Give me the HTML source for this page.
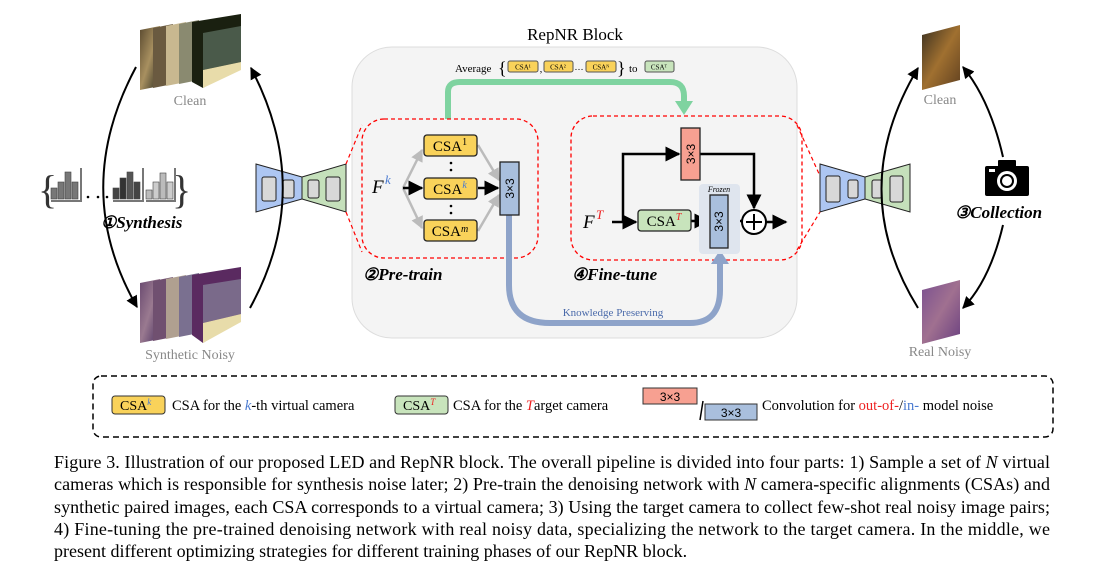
<!DOCTYPE html>
<html><head><meta charset="utf-8"><style>
body{margin:0;background:#fff;}
svg{display:block;font-family:"Liberation Serif",serif;}
</style></head><body>
<svg width="1100" height="577" viewBox="0 0 1100 577" xmlns="http://www.w3.org/2000/svg">
<defs>
<marker id="ah" viewBox="0 0 10 10" refX="9" refY="5" markerWidth="6" markerHeight="6" orient="auto"><path d="M0,0L10,5L0,10z" fill="#000"/></marker>
<marker id="ahg" viewBox="0 0 10 10" refX="9" refY="5" markerWidth="5" markerHeight="5" orient="auto"><path d="M0,0L10,5L0,10z" fill="#bbb"/></marker>
<linearGradient id="cl" x1="0" y1="0" x2="1" y2="1"><stop offset="0" stop-color="#5a4a30"/><stop offset=".5" stop-color="#a89060"/><stop offset="1" stop-color="#2a2a20"/></linearGradient>
<linearGradient id="nz" x1="0" y1="0" x2="1" y2="1"><stop offset="0" stop-color="#6a4a70"/><stop offset=".5" stop-color="#9a7a90"/><stop offset="1" stop-color="#4a3060"/></linearGradient>
<linearGradient id="rc" x1="0" y1="0" x2="1" y2="1"><stop offset="0" stop-color="#3a3020"/><stop offset=".5" stop-color="#a07030"/><stop offset="1" stop-color="#604020"/></linearGradient>
<linearGradient id="rn" x1="0" y1="0" x2="1" y2="1"><stop offset="0" stop-color="#7a5090"/><stop offset=".5" stop-color="#a07090"/><stop offset="1" stop-color="#6a4080"/></linearGradient>
</defs>

<text x="575" y="40" font-size="17" text-anchor="middle">RepNR Block</text>
<rect x="352" y="47" width="445" height="291" rx="40" fill="#f4f4f4" stroke="#ddd"/>

<text x="455" y="72" font-size="11">Average</text>
<text x="498" y="74" font-size="18">{</text>
<g font-size="7" text-anchor="middle">
<rect x="508" y="61" width="30" height="11" fill="#f9d25a" stroke="#555" rx="2"/><text x="523" y="69.5">CSA¹</text>
<text x="541" y="72" font-size="10">,</text>
<rect x="544" y="61" width="29" height="11" fill="#f9d25a" stroke="#555" rx="2"/><text x="558" y="69.5">CSA²</text>
<text x="579" y="70" font-size="9">…</text>
<rect x="586" y="61" width="30" height="11" fill="#f9d25a" stroke="#555" rx="2"/><text x="601" y="69.5">CSAᴺ</text>
<rect x="645" y="61" width="29" height="11" fill="#c8e4bc" stroke="#555" rx="2"/><text x="659" y="69.5">CSAᵀ</text>
</g>
<text x="617" y="74" font-size="18">}</text>
<text x="629" y="72" font-size="11">to</text>

<path d="M448,119 V92 Q448,82 460,82 H670 Q684,82 684,96 V103" fill="none" stroke="#7fd3a0" stroke-width="6"/>
<path d="M675,101 L693,101 L684,115 z" fill="#7fd3a0"/>

<rect x="362" y="119" width="176" height="139" rx="22" fill="none" stroke="#f00" stroke-width="1.3" stroke-dasharray="4,3"/>
<rect x="571" y="116" width="231" height="144" rx="22" fill="none" stroke="#f00" stroke-width="1.3" stroke-dasharray="4,3"/>

<path d="M509,215 V285 Q509,323 550,323 H690 Q720,323 720,290 V262" fill="none" stroke="#8ea3c9" stroke-width="6"/>
<path d="M711,264 L729,264 L720,250 z" fill="#8ea3c9"/>
<text x="613" y="316" font-size="11" fill="#4a6aaa" text-anchor="middle">Knowledge Preserving</text>

<text x="372" y="193" font-size="19" font-style="italic">F</text><text x="385" y="184" font-size="13" font-style="italic" fill="#4a7ad0">k</text>
<g stroke="#bbb" stroke-width="2.5" fill="none">
<path d="M403,188 L422,150" marker-end="url(#ahg)"/>
<path d="M403,188 L422,228" marker-end="url(#ahg)"/>
<path d="M478,145 L499,180" marker-end="url(#ahg)"/>
<path d="M478,231 L499,195" marker-end="url(#ahg)"/>
</g>
<line x1="403" y1="188" x2="422" y2="188" stroke="#000" stroke-width="2.5" marker-end="url(#ah)"/>
<line x1="478" y1="188" x2="498" y2="188" stroke="#000" stroke-width="2.5" marker-end="url(#ah)"/>
<g font-size="15" text-anchor="middle">
<rect x="424" y="135" width="53" height="21" rx="3" fill="#f9d25a" stroke="#222" stroke-width="1.3"/><text x="450" y="151">CSA<tspan font-size="10" dy="-6">1</tspan></text>
<rect x="424" y="178" width="53" height="21" rx="3" fill="#f9d25a" stroke="#222" stroke-width="1.3"/><text x="450" y="194">CSA<tspan font-size="10" dy="-6" fill="#4a7ad0" font-style="italic">k</tspan></text>
<rect x="424" y="220" width="53" height="21" rx="3" fill="#f9d25a" stroke="#222" stroke-width="1.3"/><text x="450" y="236">CSA<tspan font-size="10" dy="-4" font-style="italic">m</tspan></text>
</g>
<g fill="#000"><circle cx="451" cy="163" r="1.3"/><circle cx="451" cy="170" r="1.3"/><circle cx="451" cy="206" r="1.3"/><circle cx="451" cy="213" r="1.3"/></g>
<rect x="500" y="162" width="19" height="53" fill="#a9bfdd" stroke="#222" stroke-width="1.3"/>
<text transform="translate(514,188.5) rotate(-90)" font-size="12" text-anchor="middle" font-family="Liberation Sans,sans-serif">3×3</text>
<text x="363" y="280" font-size="17" font-weight="bold" font-style="italic">②Pre-train</text>

<text x="583" y="228" font-size="19" font-style="italic">F</text><text x="596" y="219" font-size="13" font-style="italic" fill="#e22">T</text>
<g stroke="#000" stroke-width="2.5" fill="none">
<line x1="612" y1="222" x2="636" y2="222" marker-end="url(#ah)"/>
<path d="M623,222 V154 H679" marker-end="url(#ah)"/>
<path d="M700,154 H754 V208" marker-end="url(#ah)"/>
<line x1="691" y1="221" x2="708" y2="221" marker-end="url(#ah)"/>
<line x1="728" y1="221" x2="742" y2="221"/>
<line x1="766" y1="222" x2="786" y2="222" marker-end="url(#ah)"/>
</g>
<rect x="681" y="128" width="19" height="52" fill="#f7a091" stroke="#222" stroke-width="1.3"/>
<text transform="translate(695,154) rotate(-90)" font-size="12" text-anchor="middle" font-family="Liberation Sans,sans-serif">3×3</text>
<rect x="638" y="210" width="53" height="21" rx="3" fill="#c8e4bc" stroke="#222" stroke-width="1.3"/>
<text x="664" y="226" font-size="15" text-anchor="middle">CSA<tspan font-size="10" dy="-6" fill="#e22" font-style="italic">T</tspan></text>
<rect x="699" y="184" width="41" height="70" rx="4" fill="#dfe5ee"/>
<text x="719" y="192" font-size="8" font-style="italic" text-anchor="middle">Frozen</text>
<rect x="710" y="195" width="18" height="53" fill="#a9bfdd" stroke="#222" stroke-width="1.3"/>
<text transform="translate(723,221.5) rotate(-90)" font-size="12" text-anchor="middle" font-family="Liberation Sans,sans-serif">3×3</text>
<circle cx="754" cy="222" r="12" fill="#fff" stroke="#000" stroke-width="2"/>
<path d="M746,222 H762 M754,214 V230" stroke="#000" stroke-width="2"/>
<text x="572" y="280" font-size="17" font-weight="bold" font-style="italic">④Fine-tune</text>

<g>
<path d="M256,164 L302,177 L302,199 L256,212 z" fill="#adc6f2" stroke="#222"/>
<path d="M302,177 L346,164 L346,212 L302,199 z" fill="#c5e0bb" stroke="#222"/>
<rect x="262" y="177" width="14" height="24" rx="2" fill="#d8d8d8" stroke="#222"/>
<rect x="283" y="180" width="11" height="18" rx="2" fill="#d8d8d8" stroke="#222"/>
<rect x="308" y="180" width="11" height="18" rx="2" fill="#d8d8d8" stroke="#222"/>
<rect x="326" y="177" width="14" height="24" rx="2" fill="#d8d8d8" stroke="#222"/>
</g>
<path d="M346,164 L362,125 M346,212 L362,252" stroke="#f00" stroke-width="1.2" stroke-dasharray="4,3"/>
<path d="M140,30 L160,26 L160,86 L140,90z" fill="url(#cl)"/>
<path d="M153,28 L173,24 L173,84 L153,88z" fill="#6a5a40"/>
<path d="M166,26 L186,22 L186,82 L166,86z" fill="#c8b890"/>
<path d="M179,24 L199,20 L199,80 L179,84z" fill="#8a8a70"/>
<path d="M192,22 L241,14 L241,64 L203,88 L192,82z" fill="#1a2010"/>
<path d="M203,33 L241,26 L241,62 L203,70z" fill="#4a5a4a"/>
<path d="M203,70 L241,62 L241,70 L203,88z" fill="#e8dcaa"/>
<path d="M140,283 L160,279 L160,339 L140,343z" fill="url(#nz)"/>
<path d="M153,281 L173,277 L173,337 L153,341z" fill="#705070"/>
<path d="M166,279 L186,275 L186,335 L166,339z" fill="#b0a090"/>
<path d="M179,277 L199,273 L199,333 L179,337z" fill="#7a7090"/>
<path d="M192,275 L241,267 L241,318 L203,343 L192,335z" fill="#5a2a60"/>
<path d="M203,285 L241,279 L241,314 L203,323z" fill="#7a6a8a"/>
<path d="M203,323 L241,314 L241,322 L203,343z" fill="#e8dcaa"/>
<text x="190" y="105" font-size="14" fill="#888" text-anchor="middle">Clean</text>
<text x="190" y="359" font-size="14" fill="#888" text-anchor="middle">Synthetic Noisy</text>
<g stroke="#000" stroke-width="2" fill="none">
<path d="M136,67 Q70,190 137,307" marker-end="url(#ah)"/>
<path d="M250,308 Q315,190 251,68" marker-end="url(#ah)"/>
</g>
<text x="38" y="203" font-size="40" fill="#333">{</text>
<text x="172" y="203" font-size="40" fill="#333">}</text>
<g fill="#777" stroke="#444" stroke-width=".6">
<rect x="51" y="188" width="6" height="11"/><rect x="58" y="182" width="6" height="17"/><rect x="65" y="172" width="6" height="27"/><rect x="72" y="182" width="6" height="17"/>
<rect x="113" y="188" width="6" height="11" fill="#444"/><rect x="120" y="178" width="6" height="21" fill="#333"/><rect x="127" y="172" width="6" height="27" fill="#555"/><rect x="134" y="182" width="6" height="17" fill="#444"/>
<rect x="146" y="190" width="6" height="9" fill="#bbb"/><rect x="153" y="182" width="6" height="17" fill="#ccc"/><rect x="160" y="173" width="6" height="26" fill="#bbb"/><rect x="167" y="182" width="6" height="17" fill="#ccc"/>
</g>
<path d="M51,201 H81 V168 M113,201 H143 V168 M146,201 H175 V168" stroke="#777" stroke-width="2" fill="none"/>
<g fill="#000"><circle cx="88" cy="197" r="1.3"/><circle cx="98" cy="197" r="1.3"/><circle cx="107" cy="197" r="1.3"/></g>
<text x="101" y="228" font-size="17" font-weight="bold" font-style="italic">①Synthesis</text>

<g>
<path d="M820,164 L865,177 L865,199 L820,212 z" fill="#adc6f2" stroke="#222"/>
<path d="M865,177 L910,164 L910,212 L865,199 z" fill="#c5e0bb" stroke="#222"/>
<rect x="826" y="176" width="14" height="26" rx="2" fill="#d8d8d8" stroke="#222"/>
<rect x="848" y="180" width="10" height="18" rx="2" fill="#d8d8d8" stroke="#222"/>
<rect x="872" y="180" width="10" height="18" rx="2" fill="#d8d8d8" stroke="#222"/>
<rect x="890" y="176" width="13" height="26" rx="2" fill="#d8d8d8" stroke="#222"/>
</g>
<path d="M797,125 L820,176 M797,250 L820,212" stroke="#f00" stroke-width="1.2" stroke-dasharray="4,3"/>
<path d="M922,35 L960,25 L960,80 L922,90z" fill="url(#rc)"/>
<path d="M922,290 L960,280 L960,334 L922,344z" fill="url(#rn)"/>
<text x="940" y="104" font-size="14" fill="#888" text-anchor="middle">Clean</text>
<text x="940" y="356" font-size="14" fill="#888" text-anchor="middle">Real Noisy</text>
<g stroke="#000" stroke-width="2" fill="none">
<path d="M918,308 Q845,190 918,68" marker-end="url(#ah)"/>
<path d="M1003,157 Q990,100 963,67" marker-end="url(#ah)"/>
<path d="M1003,225 Q990,280 963,308" marker-end="url(#ah)"/>
</g>
<g fill="#000">
<rect x="985" y="166" width="44" height="30" rx="2"/>
<rect x="998" y="160" width="18" height="8" rx="1"/>
<circle cx="1007" cy="181" r="10" fill="#fff"/><circle cx="1007" cy="181" r="7"/><circle cx="1007" cy="181" r="5" fill="#fff"/>
<rect x="989" y="169" width="6" height="3" fill="#fff"/>
</g>
<text x="955" y="218" font-size="17" font-weight="bold" font-style="italic">③Collection</text>

<!-- legend -->
<rect x="93" y="376" width="960" height="61" rx="8" fill="none" stroke="#000" stroke-width="1.5" stroke-dasharray="6,4"/>
<rect x="112" y="396" width="53" height="18" rx="3" fill="#f9d25a" stroke="#333"/>
<text x="120" y="410" font-size="14">CSA<tspan font-size="9" dy="-5" fill="#4a7ad0" font-style="italic">k</tspan></text>
<text x="172" y="410" font-size="14.5">CSA for the <tspan fill="#4a7ad0" font-style="italic">k</tspan>-th virtual camera</text>
<rect x="395" y="396" width="53" height="18" rx="3" fill="#c8e4bc" stroke="#333"/>
<text x="403" y="410" font-size="14">CSA<tspan font-size="9" dy="-5" fill="#e22" font-style="italic">T</tspan></text>
<text x="453" y="410" font-size="14.5">CSA for the <tspan fill="#e22" font-style="italic">T</tspan>arget camera</text>
<rect x="643" y="388" width="54" height="16" fill="#f7a091" stroke="#333"/>
<text x="670" y="401" font-size="12" text-anchor="middle" font-family="Liberation Sans,sans-serif">3×3</text>
<line x1="703" y1="401" x2="700" y2="420" stroke="#000" stroke-width="1.5"/>
<rect x="705" y="404" width="52" height="16" fill="#a9bfdd" stroke="#333"/>
<text x="731" y="417" font-size="12" text-anchor="middle" font-family="Liberation Sans,sans-serif">3×3</text>
<text x="762" y="410" font-size="14.5">Convolution for <tspan fill="#e22">out-of-</tspan>/<tspan fill="#4a7ad0">in-</tspan> model noise</text>

<g font-size="18">
<text x="54" y="468" textLength="996" lengthAdjust="spacing">Figure 3.  Illustration of our proposed LED and RepNR block. The overall pipeline is divided into four parts: 1) Sample a set of <tspan font-style="italic">N</tspan> virtual</text>
<text x="54" y="490" textLength="996" lengthAdjust="spacing">cameras which is responsible for synthesis noise later; 2) Pre-train the denoising network with <tspan font-style="italic">N</tspan> camera-specific alignments (CSAs) and</text>
<text x="54" y="513" textLength="996" lengthAdjust="spacing">synthetic paired images, each CSA corresponds to a virtual camera; 3) Using the target camera to collect few-shot real noisy image pairs;</text>
<text x="54" y="535" textLength="996" lengthAdjust="spacing">4) Fine-tuning the pre-trained denoising network with real noisy data, specializing the network to the target camera.  In the middle, we</text>
<text x="54" y="557">present different optimizing strategies for different training phases of our RepNR block.</text>
</g>
</svg>
</body></html>
